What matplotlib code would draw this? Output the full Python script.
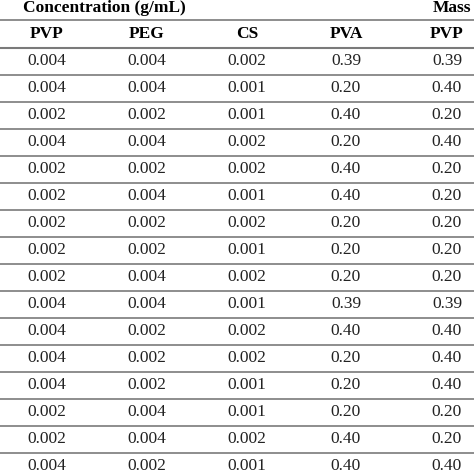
import matplotlib
matplotlib.use("Agg")
import matplotlib.pyplot as plt

columns = ["PVP", "PEG", "CS", "PVA", "PVP"]
pvp_conc = ["0.004","0.004","0.002","0.004","0.002","0.002","0.002","0.002","0.002","0.004","0.004","0.004","0.004","0.002","0.002","0.004"]
peg_conc = ["0.004","0.004","0.002","0.004","0.002","0.004","0.002","0.002","0.004","0.004","0.002","0.002","0.002","0.004","0.004","0.002"]
cs_conc  = ["0.002","0.001","0.001","0.002","0.002","0.001","0.002","0.001","0.002","0.001","0.002","0.002","0.001","0.001","0.002","0.001"]
pva_mass = ["0.39","0.20","0.40","0.20","0.40","0.40","0.20","0.20","0.20","0.39","0.40","0.20","0.20","0.20","0.40","0.40"]
pvp_mass = ["0.39","0.40","0.20","0.40","0.20","0.20","0.20","0.20","0.20","0.39","0.40","0.40","0.40","0.20","0.20","0.40"]

fig = plt.figure(figsize=(4.74, 4.74), dpi=100)
ax = fig.add_axes([0, 0, 1, 1])
ax.set_xlim(0, 474)
ax.set_ylim(474, 0)
ax.axis("off")
font = "Liberation Serif"
xs = [47, 147, 247, 346, 447]
lc = "#7a7a7a"

ax.text(23, 8, "Concentration (g/mL)", fontsize=12.5, fontweight="bold", family=font, va="center", ha="left")
ax.text(471, 8, "Mass", fontsize=12.5, fontweight="bold", family=font, va="center", ha="right")
ax.axhline(20, color=lc, lw=1.2)
for x, c in zip(xs, columns):
    ax.text(x, 34, c, fontsize=12.5, fontweight="bold", family=font, va="center", ha="center")
ax.axhline(48, color=lc, lw=1.5)

data = list(zip(pvp_conc, peg_conc, cs_conc, pva_mass, pvp_mass))
for i, row in enumerate(data):
    y = 61 + 27 * i
    for x, v in zip(xs, row):
        ax.text(x, y, v, fontsize=12.5, family=font, va="center", ha="center", color="#222")
    if i < len(data) - 1:
        ax.axhline(y + 13.5, color=lc, lw=1.2)

fig.savefig("out.png", dpi=100)
